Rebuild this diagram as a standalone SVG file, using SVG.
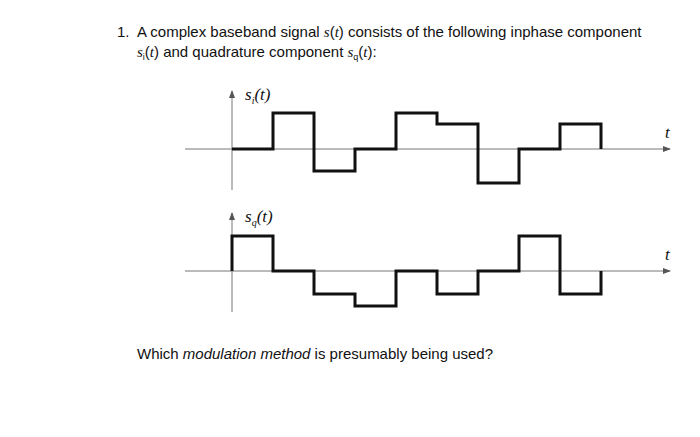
<svg xmlns="http://www.w3.org/2000/svg" width="700" height="437" viewBox="0 0 700 437">
<style>
.t{font-family:"Liberation Sans",Arial,sans-serif;font-size:15px;fill:#111}
.m{font-family:"Liberation Serif","Times New Roman",serif;font-style:italic}
.ax{stroke:#777;stroke-width:1;fill:none}
.sig{stroke:#111;stroke-width:3;fill:none;stroke-linejoin:miter}
.lab{font-family:"Liberation Serif","Times New Roman",serif;font-style:italic;font-size:17px;fill:#111}
</style>
<defs><marker id="ar" markerWidth="8" markerHeight="6" refX="7" refY="3" orient="auto" markerUnits="userSpaceOnUse"><path d="M0,0 L8,3 L0,6 Z" fill="#555"/></marker></defs>
<rect width="700" height="437" fill="#fff"/>
<text class="t" x="117" y="37">1.</text>
<text class="t" x="137" y="37">A complex baseband signal <tspan class="m">s</tspan>(<tspan class="m">t</tspan>) consists of the following inphase component</text>
<text class="t" x="137" y="57"><tspan class="m">s</tspan><tspan font-size="9" dy="3">i</tspan><tspan dy="-3">(</tspan><tspan class="m">t</tspan>) and quadrature component <tspan class="m">s</tspan><tspan font-size="9" dy="3">q</tspan><tspan dy="-3">(</tspan><tspan class="m">t</tspan>):</text>
<g id="plot-i">
<line class="ax" x1="185" y1="149" x2="670" y2="149" marker-end="url(#ar)"/>
<line class="ax" x1="232" y1="190" x2="232" y2="91" marker-end="url(#ar)"/>
<text class="lab" x="245" y="100">s<tspan font-size="10" dy="4">i</tspan><tspan dy="-4">(t)</tspan></text>
<text class="lab" x="665" y="138">t</text>
<path class="sig" d="M232,149 H273 V113 H314 V171 H355 V149 H396 V113 H437 V124 H478 V183 H519 V149 H560 V124 H601 V149"/>
</g>
<g id="plot-q">
<line class="ax" x1="185" y1="271" x2="670" y2="271" marker-end="url(#ar)"/>
<line class="ax" x1="232" y1="312" x2="232" y2="213" marker-end="url(#ar)"/>
<text class="lab" x="245" y="222">s<tspan font-size="10" dy="4">q</tspan><tspan dy="-4">(t)</tspan></text>
<text class="lab" x="665" y="260">t</text>
<path class="sig" d="M232,271 V236 H273 V271 H314 V294 H355 V306 H396 V271 H437 V294 H478 V271 H519 V236 H560 V294 H601 V271"/>
</g>
<text class="t" x="137" y="359">Which <tspan font-style="italic">modulation method</tspan> is presumably being used?</text>
</svg>
